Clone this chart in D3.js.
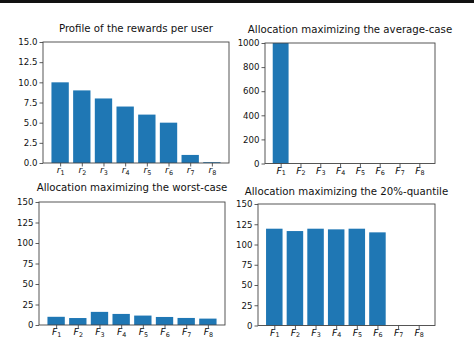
<!DOCTYPE html>
<html><head><meta charset="utf-8">
<script src="https://cdn.jsdelivr.net/npm/d3@7"></script>
<style>body{margin:0;background:#fff}svg{display:block}</style>
</head><body>
<svg id="c" width="474" height="339"></svg>
<script>
const indices = [1,2,3,4,5,6,7,8];
const rewardsPerUser = [10, 9, 8, 7, 6, 5, 1, 0.1];
const allocAverage = [1000, 0, 0, 0, 0, 0, 0, 0];
const allocWorst = [10, 8.5, 16, 13.5, 11.5, 9.8, 8.6, 7.8];
const allocQuantile = [119.5, 116.6, 119.5, 118.7, 119.5, 115, 0, 0];
const ticksRewards = [0, 2.5, 5, 7.5, 10, 12.5, 15];
const ticksAverage = [0, 200, 400, 600, 800, 1000];
const ticksAlloc = [0, 25, 50, 75, 100, 125, 150];
const titles = ["Profile of the rewards per user", "Allocation maximizing the average-case",
  "Allocation maximizing the worst-case", "Allocation maximizing the 20%-quantile"];

const svg = d3.select("#c");
svg.append("rect").attr("x",0).attr("y",0).attr("width",474).attr("height",339).attr("fill","#fff");
svg.append("rect").attr("x",0).attr("y",0).attr("width",474).attr("height",3).attr("fill","#111");

const panels = [
  {title:titles[0], vals:rewardsPerUser, ymax:15, ticks:ticksRewards, fmt:d3.format(".1f"), letter:"r", box:[43,42,229,163], ty:32},
  {title:titles[1], vals:allocAverage, ymax:1000, ticks:ticksAverage, fmt:d3.format("d"), letter:"F", box:[265,43,435,163.5], ty:33},
  {title:titles[2], vals:allocWorst, ymax:150, ticks:ticksAlloc, fmt:d3.format("d"), letter:"F", box:[39,202,225,325], ty:191},
  {title:titles[3], vals:allocQuantile, ymax:150, ticks:ticksAlloc, fmt:d3.format("d"), letter:"F", box:[258,204,435,325.5], ty:195}
];

panels.forEach(p => {
  const [x0,y0,x1,y1] = p.box;
  const x = d3.scaleLinear().domain([-0.79, 7.79]).range([x0,x1]);
  const y = d3.scaleLinear().domain([0, p.ymax]).range([y1,y0]);
  const g = svg.append("g");
  g.selectAll("rect.bar").data(p.vals).join("rect").attr("class","bar")
    .attr("x",(d,i)=>x(i-0.4)).attr("width",(d,i)=>x(i+0.4)-x(i-0.4))
    .attr("y",d=>y(d)).attr("height",d=>y(0)-y(d)).attr("fill","#1f77b4");
  const ya = g.append("g").attr("transform",`translate(${x0},0)`)
    .call(d3.axisLeft(y).tickValues(p.ticks).tickFormat(p.fmt).tickSize(3.5).tickPadding(2));
  ya.select(".domain").remove();
  ya.selectAll("line").attr("stroke","#333").attr("stroke-width",0.8);
  ya.selectAll("text").attr("font-family","DejaVu Sans").attr("font-size","8.6px").attr("fill","#111");
  const xa = g.append("g").attr("transform",`translate(0,${y1})`)
    .call(d3.axisBottom(x).tickValues(d3.range(8)).tickFormat("").tickSize(3.5));
  xa.select(".domain").remove();
  xa.selectAll("line").attr("stroke","#333").attr("stroke-width",0.8);
  xa.selectAll(".tick").each(function(d){
    const t = d3.select(this).append("text").attr("y",10).attr("text-anchor","middle")
      .attr("font-family","DejaVu Sans").attr("font-size","9.2px").attr("fill","#111");
    t.append("tspan").attr("font-style","italic").text(p.letter);
    t.append("tspan").attr("font-size","6.4px").attr("dy",1.5).text(indices[d]);
  });
  g.append("rect").attr("x",x0).attr("y",y0).attr("width",x1-x0).attr("height",y1-y0)
    .attr("fill","none").attr("stroke","#444").attr("stroke-width",0.9);
  g.append("text").attr("x",(x0+x1)/2).attr("y",p.ty).attr("text-anchor","middle")
    .attr("font-family","DejaVu Sans").attr("font-size","10.2px").attr("fill","#111").text(p.title);
});
</script>
</body></html>
